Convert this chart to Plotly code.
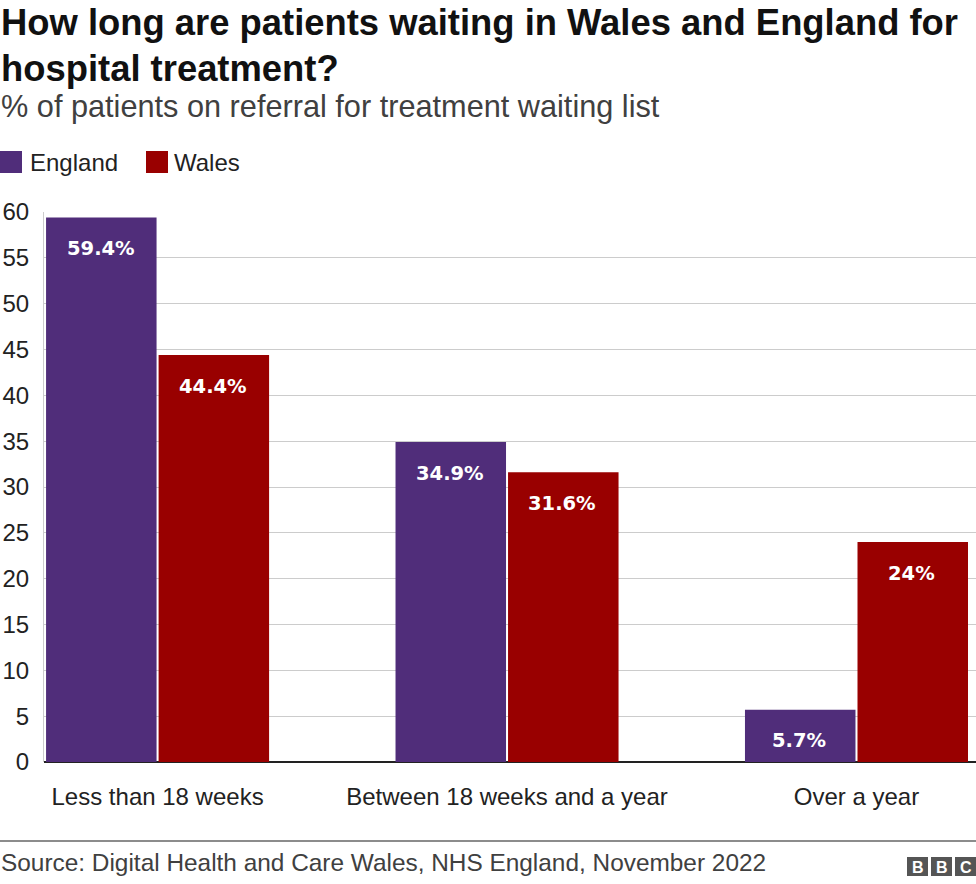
import plotly.graph_objects as go

categories = ["Less than 18 weeks", "Between 18 weeks and a year", "Over a year"]
england = [59.4, 34.9, 5.7]
wales = [44.4, 31.6, 24.0]
england_labels = ["59.4%", "34.9%", "5.7%"]
wales_labels = ["44.4%", "31.6%", "24%"]
y_ticks = list(range(0, 65, 5))

PURPLE = "#502d7a"
RED = "#990000"
FONT = "Liberation Sans, Arial, sans-serif"

# plot area in pixels
L, R, T, B = 44, 976, 212, 762
W, H = R - L, B - T

def px(x):
    return (x - L) / W

def py(y):
    return (B - y) / H

fig = go.Figure()
fig.add_trace(go.Bar(x=categories, y=england, name="England", marker_color=PURPLE,
                     marker_line_width=0, showlegend=False))
fig.add_trace(go.Bar(x=categories, y=wales, name="Wales", marker_color=RED,
                     marker_line_width=0, showlegend=False))

annotations = []
for i, cat in enumerate(categories):
    annotations.append(dict(x=cat, y=england[i], xref="x", yref="y", text="<b>%s</b>" % england_labels[i],
                            showarrow=False, xshift=-57, yshift=-31, yanchor="middle",
                            font=dict(family="DejaVu Sans, Verdana, sans-serif", size=19.5, color="white")))
    annotations.append(dict(x=cat, y=wales[i], xref="x", yref="y", text="<b>%s</b>" % wales_labels[i],
                            showarrow=False, xshift=55, yshift=-31, yanchor="middle",
                            font=dict(family="DejaVu Sans, Verdana, sans-serif", size=19.5, color="white")))

# Title, subtitle
annotations.append(dict(x=px(-1), y=py(22), xref="paper", yref="paper", xanchor="left", yanchor="middle",
                        text="<b>How long are patients waiting in Wales and England for</b>", showarrow=False,
                        font=dict(family=FONT, size=36.4, color="#111111")))
annotations.append(dict(x=px(-1), y=py(68), xref="paper", yref="paper", xanchor="left", yanchor="middle",
                        text="<b>hospital treatment?</b>", showarrow=False,
                        font=dict(family=FONT, size=36.4, color="#111111")))
annotations.append(dict(x=px(-1), y=py(106), xref="paper", yref="paper", xanchor="left", yanchor="middle",
                        text="% of patients on referral for treatment waiting list", showarrow=False,
                        font=dict(family=FONT, size=30.7, color="#404040")))
# Legend
annotations.append(dict(x=px(28), y=py(162), xref="paper", yref="paper", xanchor="left", yanchor="middle",
                        text="England", showarrow=False, font=dict(family=FONT, size=24, color="#222222")))
annotations.append(dict(x=px(172), y=py(162), xref="paper", yref="paper", xanchor="left", yanchor="middle",
                        text="Wales", showarrow=False, font=dict(family=FONT, size=24, color="#222222")))
# Source
annotations.append(dict(x=px(-1), y=py(862), xref="paper", yref="paper", xanchor="left", yanchor="middle",
                        text="Source: Digital Health and Care Wales, NHS England, November 2022", showarrow=False,
                        font=dict(family=FONT, size=24.4, color="#404040")))
# BBC logo letters
for j, ch in enumerate("BBC"):
    cx = 917.5 + j * 24
    annotations.append(dict(x=px(cx), y=py(867), xref="paper", yref="paper", xanchor="center", yanchor="middle",
                            text="<b>%s</b>" % ch, showarrow=False,
                            font=dict(family=FONT, size=16, color="white")))

shapes = [
    dict(type="rect", xref="paper", yref="paper", x0=px(0), x1=px(22), y0=py(173), y1=py(151),
         fillcolor=PURPLE, line_width=0),
    dict(type="rect", xref="paper", yref="paper", x0=px(146), x1=px(168), y0=py(173), y1=py(151),
         fillcolor=RED, line_width=0),
    dict(type="line", xref="paper", yref="paper", x0=px(0), x1=px(976), y0=py(841), y1=py(841),
         line=dict(color="#8c8c8c", width=2)),
]
for j in range(3):
    x0 = 907 + j * 24
    shapes.append(dict(type="rect", xref="paper", yref="paper", x0=px(x0), x1=px(x0 + 21),
                       y0=py(876), y1=py(857), fillcolor="#555555", line_width=0, layer="below"))

fig.update_layout(
    width=976, height=884,
    margin=dict(l=L, r=976 - R, t=T, b=884 - B, pad=0, autoexpand=False),
    paper_bgcolor="white", plot_bgcolor="white",
    barmode="group", bargap=0.356, bargroupgap=0.018,
    showlegend=False,
    annotations=annotations, shapes=shapes,
    font=dict(family=FONT, color="#222222"),
    xaxis=dict(range=[-0.325, 2.342], showgrid=False, showline=False, zeroline=False, automargin=False,
               ticks="", tickfont=dict(family=FONT, size=24, color="#222222"),
               ticklabelstandoff=18, fixedrange=True),
    yaxis=dict(range=[0, 60], tickvals=y_ticks, showgrid=True, gridcolor="#cccccc", gridwidth=1,
               showline=True, linecolor="#cccccc", linewidth=1, automargin=False,
               zeroline=True, zerolinecolor="#222222", zerolinewidth=2, ticks="",
               tickfont=dict(family=FONT, size=24, color="#222222"), ticklabelstandoff=9,
               fixedrange=True),
)

fig.write_html("out.html")
